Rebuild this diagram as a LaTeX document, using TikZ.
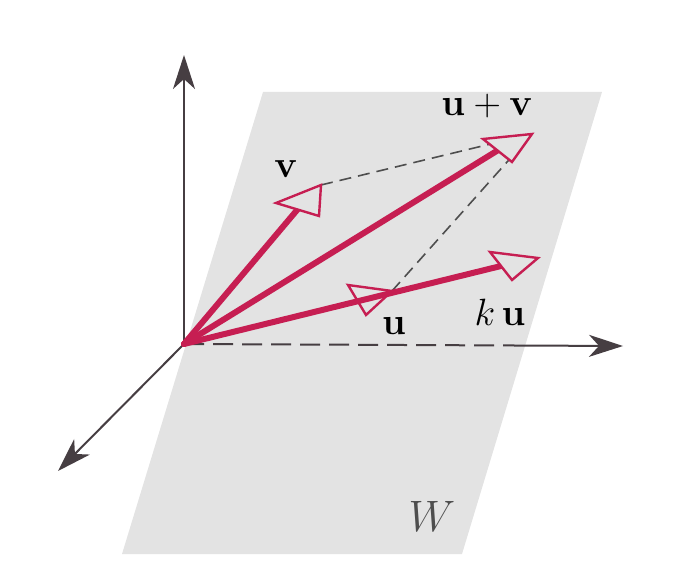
\documentclass[tikz,border=0pt]{standalone}
\usepackage{fix-cm}
\usepackage{amsmath}
\usepackage{amssymb}
\usetikzlibrary{arrows.meta,calc}

\definecolor{planegray}{RGB}{227,227,227}
\definecolor{vecred}{RGB}{198,30,82}
\definecolor{axisgray}{RGB}{70,62,66}
\definecolor{dashgray}{RGB}{78,78,78}

\begin{document}
\begin{tikzpicture}[x=0.5pt,y=-0.5pt,
    axis/.style={draw=axisgray,line width=1pt},
    axistip/.style={-{Stealth[length=17pt,width=11pt,inset=5pt]}},
    vecshaft/.style={draw=vecred,line width=3pt,line cap=round},
    vechead/.style={draw=vecred,line width=1.2pt,line join=miter},
    helper/.style={draw=dashgray,line width=0.8pt,dash pattern=on 6pt off 3.5pt},
    lbl/.style={font=\fontsize{19}{21}\selectfont}]
  \useasboundingbox (0,0) rectangle (678,576);

  % the plane W
  \fill[planegray] (263,92) -- (602,92) -- (462,554) -- (122,554) -- cycle;

  % axes
  \coordinate (O) at (184,344);
  \coordinate (zTip) at (184,55);
  \coordinate (yTip) at (58,471);
  \coordinate (xEdge) at (514,345.5);
  \coordinate (xTip) at (623,346);
  \draw[axis,axistip] (O) -- (zTip);
  \draw[axis,axistip] (O) -- (yTip);
  \draw[axis,dash pattern=on 10pt off 4.5pt] (O) -- (xEdge);
  \draw[axis,axistip] (xEdge) -- (xTip);

  % tips and heads of the vectors
  \coordinate (v) at (321,185);
  \coordinate (vL) at (276,203);
  \coordinate (vR) at (319,216);
  \coordinate (uv) at (532,134);
  \coordinate (uvL) at (483,139);
  \coordinate (uvR) at (512,162);
  \coordinate (u) at (392,291);
  \coordinate (uL) at (348,285);
  \coordinate (uR) at (366,315);
  \coordinate (ku) at (538,258);
  \coordinate (kuL) at (490,252);
  \coordinate (kuR) at (512,280);

  % parallelogram sides
  \draw[helper] (v) -- (uv);
  \draw[helper] (u) -- (uv);

  % shafts
  \draw[vecshaft] (O) -- ($(vL)!0.5!(vR)$);
  \draw[vecshaft] (O) -- ($(uvL)!0.5!(uvR)$);
  \draw[vecshaft] (O) -- ($(kuL)!0.5!(kuR)$);

  % heads
  \filldraw[vechead,fill=planegray] (v) -- (vL) -- (vR) -- cycle;
  \filldraw[vechead,fill=planegray] (uv) -- (uvL) -- (uvR) -- cycle;
  \filldraw[vechead,fill=planegray] (ku) -- (kuL) -- (kuR) -- cycle;
  \draw[vechead] (u) -- (uL) -- (uR) -- cycle;

  % labels
  \node[lbl] (vlabel) at (286,169) {$\mathbf{v}$};
  \node[lbl] (uvlabel) at (487,106) {$\mathbf{u}+\mathbf{v}$};
  \node[lbl] (ulabel) at (394,326) {$\mathbf{u}$};
  \node[lbl] (kulabel) at (500,312) {$k\,\mathbf{u}$};
  \node[font=\fontsize{22}{24}\selectfont,text=dashgray] (Wlabel) at (432,516) {$W$};
\end{tikzpicture}
\end{document}
